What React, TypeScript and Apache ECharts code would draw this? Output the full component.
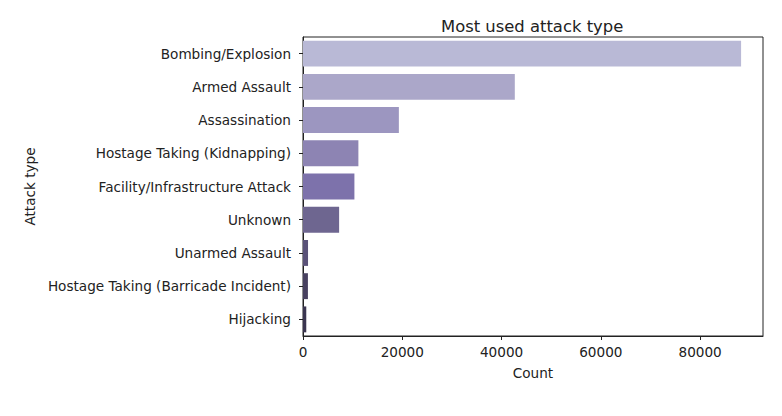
import * as echarts from 'echarts';
import { useEffect, useRef } from 'react';
import type { ECharts } from 'echarts';

const attackTypes = [
  'Bombing/Explosion',
  'Armed Assault',
  'Assassination',
  'Hostage Taking (Kidnapping)',
  'Facility/Infrastructure Attack',
  'Unknown',
  'Unarmed Assault',
  'Hostage Taking (Barricade Incident)',
  'Hijacking',
];

const counts = [88255, 42669, 19312, 11158, 10356, 7276, 1015, 991, 659];

const barColors = [
  '#b9b9d6',
  '#aba7c9',
  '#9c96c0',
  '#8d84b3',
  '#7d72ab',
  '#6e6690',
  '#5a5278',
  '#484160',
  '#3a3550',
];

const xTicks = [0, 20000, 40000, 60000, 80000];

const font = 'DejaVu Sans';
const labelSize = 13.6;

const App = () => {
  const chartRef = useRef<HTMLDivElement>(null);

  useEffect(() => {
    let chart: ECharts | null = null;
    if (chartRef.current !== null) {
      chart = echarts.init(chartRef.current, null, { renderer: 'svg' });
    }

    const options = {
      animation: false,
      title: {
        text: 'Most used attack type',
        left: 436,
        top: 13,
        textStyle: { fontFamily: font, fontSize: 16.4, fontWeight: 'normal', color: '#222' },
      },
      grid: {
        left: 303,
        right: 19,
        top: 37,
        bottom: 80,
        show: true,
        borderColor: '#222',
        borderWidth: 1,
        containLabel: false,
      },
      xAxis: {
        type: 'value',
        min: 0,
        max: Math.max(...counts) * 1.05,
        interval: 20000,
        name: 'Count',
        nameLocation: 'middle',
        nameGap: 30,
        nameTextStyle: { fontFamily: font, fontSize: labelSize, color: '#222' },
        axisLine: { show: true, lineStyle: { color: '#222', width: 1 } },
        axisTick: { show: true, length: 4, lineStyle: { color: '#222' } },
        axisLabel: {
          fontFamily: font,
          fontSize: labelSize,
          color: '#222',
          margin: 9,
          showMaxLabel: false,
          formatter: (v: number) => (xTicks.includes(v) ? String(v) : ''),
        },
        splitLine: { show: false },
      },
      yAxis: {
        type: 'category',
        data: attackTypes,
        inverse: true,
        name: 'Attack type',
        nameLocation: 'middle',
        nameGap: 261,
        nameRotate: 90,
        nameTextStyle: { fontFamily: font, fontSize: labelSize, color: '#222' },
        axisLine: { show: true, lineStyle: { color: '#222', width: 1 } },
        axisTick: { show: true, alignWithLabel: true, length: 4, lineStyle: { color: '#222' } },
        axisLabel: { fontFamily: font, fontSize: labelSize, color: '#222', margin: 12 },
      },
      series: [
        {
          type: 'bar',
          data: counts.map((v, i) => ({ value: v, itemStyle: { color: barColors[i] } })),
          barCategoryGap: '22%',
        },
      ],
    };

    chart?.setOption(options);

    return () => {
      chart?.dispose();
      chart = null;
    };
  }, []);

  return (
    <div
      ref={chartRef}
      style={{ position: 'fixed', left: 0, top: 0, width: 782, height: 416, background: '#fff' }}
    ></div>
  );
};

export default App;
